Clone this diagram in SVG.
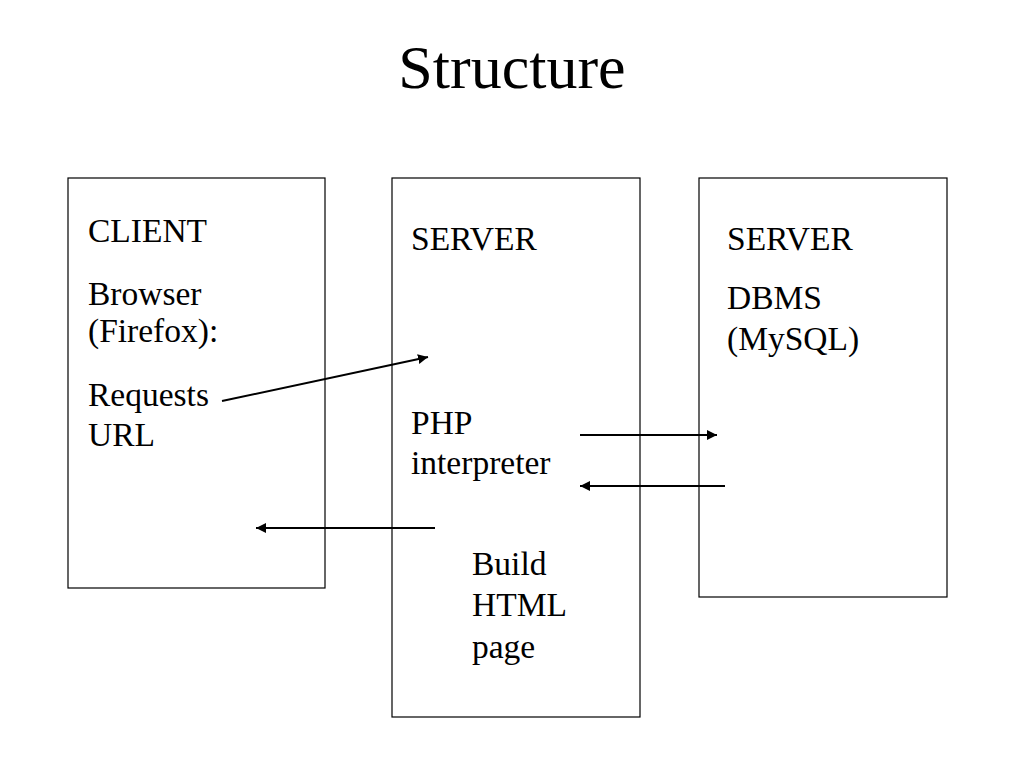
<svg xmlns="http://www.w3.org/2000/svg" width="1024" height="768" viewBox="0 0 1024 768">
<style>
text{font-family:"Liberation Serif","Times New Roman",serif;fill:#000}
.t{font-size:33.5px}
.box{fill:#fff;stroke:#000;stroke-width:1.2}
.c{stroke:#000;stroke-width:2;fill:none;marker-end:url(#a)}
</style>
<defs><marker id="a" viewBox="0 0 10 10" refX="10" refY="5" markerWidth="5" markerHeight="5" orient="auto"><path d="M0,0L10,5L0,10z" fill="#000"/></marker></defs>
<rect width="1024" height="768" fill="#fff"/>
<text x="512" y="88" font-size="62" text-anchor="middle">Structure</text>
<g id="client"><rect class="box" x="68" y="178" width="257" height="410"/>
<text class="t" x="88" y="242">CLIENT</text><text class="t" x="88" y="305">Browser</text><text class="t" x="88" y="342">(Firefox):</text><text class="t" x="88" y="406">Requests</text><text class="t" x="88" y="446">URL</text></g>
<g id="server"><rect class="box" x="392" y="178" width="248" height="539"/>
<text class="t" x="411" y="250">SERVER</text><text class="t" x="411" y="434">PHP</text><text class="t" x="411" y="474">interpreter</text><text class="t" x="472" y="575">Build</text><text class="t" x="472" y="616">HTML</text><text class="t" x="472" y="658">page</text></g>
<g id="db"><rect class="box" x="699" y="178" width="248" height="419"/>
<text class="t" x="727" y="250">SERVER</text><text class="t" x="727" y="309">DBMS</text><text class="t" x="727" y="350">(MySQL)</text></g>
<g id="connectors">
<line class="c" x1="222" y1="401" x2="428" y2="357"/>
<line class="c" x1="580" y1="435" x2="717" y2="435"/>
<line class="c" x1="725" y1="486" x2="580" y2="486"/>
<line class="c" x1="435" y1="528" x2="256" y2="528"/>
</g>
</svg>
